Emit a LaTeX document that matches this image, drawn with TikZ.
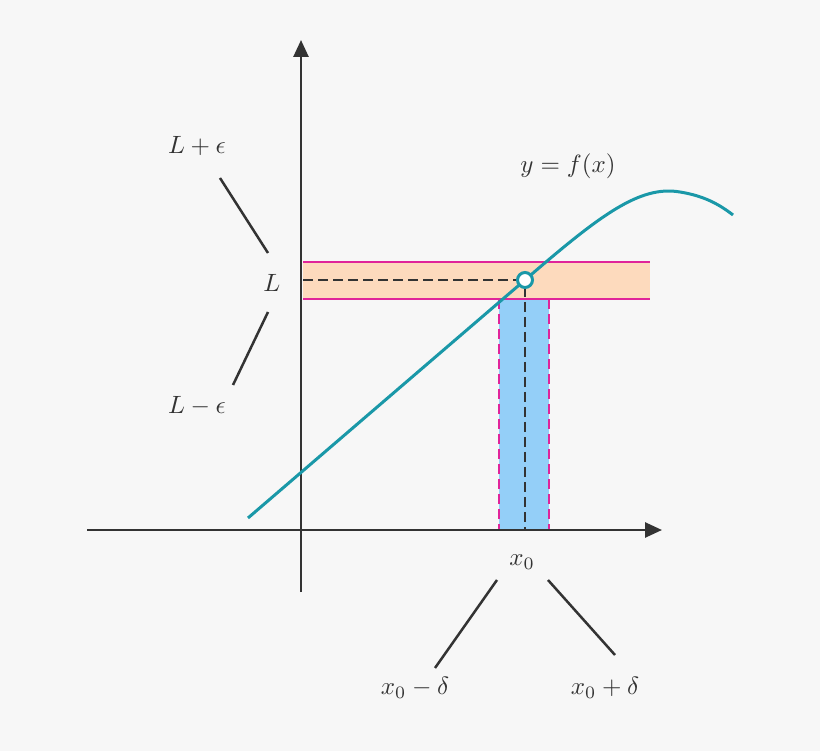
\documentclass[tikz,border=0pt]{standalone}
\usetikzlibrary{arrows.meta}
\definecolor{bg}{HTML}{F7F7F7}
\definecolor{teal1}{HTML}{1A98A8}
\definecolor{mag}{HTML}{E0249A}
\definecolor{peach}{HTML}{FDDABD}
\definecolor{sky}{HTML}{94CFF8}
\definecolor{ink}{HTML}{333333}
\begin{document}
\begin{tikzpicture}[x=1pt,y=-1pt,
  axis/.style={ink,line width=2.6pt,-{Triangle[length=17pt,width=15pt]}},
  lbl/.style={text=ink,scale=2.5,transform shape,inner sep=0pt},
  lead/.style={ink,line width=2.5pt},
  mline/.style={mag,line width=2.5pt},
  bdash/.style={ink,line width=2.4pt,dash pattern=on 10pt off 5pt}]
\fill[bg] (0,0) rectangle (820,751);
\useasboundingbox (0,0) rectangle (820,751);
\fill[peach] (303,262) rectangle (650,299);
\fill[sky] (499,299) rectangle (549,530);
\draw[mline] (303,262) -- (650,262);
\draw[mline] (303,299) -- (650,299);
\draw[mline,dash pattern=on 10pt off 5pt] (499,299) -- (499,530);
\draw[mline,dash pattern=on 10pt off 5pt] (549,299) -- (549,530);
\draw[bdash] (303,280) -- (518,280);
\draw[bdash] (525,287) -- (525,530);
\coordinate (xs) at (87,530); \coordinate (xe) at (662,530);
\coordinate (ys) at (301,592); \coordinate (ye) at (301,40);
\draw[axis] (xs) -- (xe);
\draw[axis] (ys) -- (ye);
\draw[teal1,line width=3pt] (248,518) -- (525,280) .. controls (600,215) and (640,185) .. (680,192) .. controls (705,196) and (720,205) .. (733,215);
\node[circle,draw=teal1,fill=white,line width=3pt,minimum size=15pt,inner sep=0pt] (p) at (525,280) {};
\node[lbl] (lpe) at (197,146) {$L+\epsilon$};
\node[lbl] (L) at (272,283) {$L$};
\node[lbl] (lme) at (197,406) {$L-\epsilon$};
\node[lbl] (f) at (568,166) {$y=f(x)$};
\node[lbl] (x0) at (522,562) {$x_0$};
\node[lbl] (xm) at (415,688) {$x_0-\delta$};
\node[lbl] (xp) at (605,688) {$x_0+\delta$};
\draw[lead] (220,178) -- (268,253);
\draw[lead] (268,312) -- (233,385);
\draw[lead] (497,580) -- (435,668);
\draw[lead] (548,580) -- (615,655);
\end{tikzpicture}
\end{document}
